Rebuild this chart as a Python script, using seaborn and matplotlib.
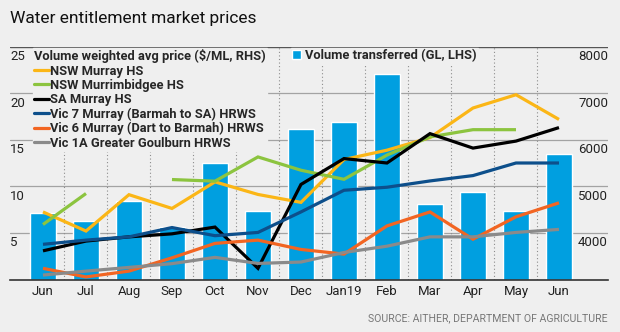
import numpy as np
import pandas as pd
import matplotlib
matplotlib.use("Agg")
import matplotlib.pyplot as plt
import seaborn as sns
from matplotlib import font_manager as fm
from matplotlib.lines import Line2D
from matplotlib.patches import Patch

# ---------------- data ----------------
months = ["Jun", "Jul", "Aug", "Sep", "Oct", "Nov", "Dec", "Jan19",
          "Feb", "Mar", "Apr", "May", "Jun"]
volume_gl = [7.1, 6.25, 8.4, 5.6, 12.55, 7.33, 16.2, 16.95, 22.07, 8.08, 9.44, 7.33, 13.5]

nsw_murray = [4450, 4040, 4820, 4525, 5095, 4825, 4655, 5575, 5775, 6045, 6680, 6965, 6435]
nsw_murrumbidgee = [4180, 4845, np.nan, 5145, 5110, 5630, 5345, 5150, 5670, 6060, 6215, 6215, np.nan]
sa_murray = [3615, 3825, 3915, 3980, 4125, 3240, 5040, 5595, 5500, 6130, 5820, 5970, 6260]
vic7 = [3755, 3845, 3915, 4115, 3940, 4010, 4450, 4915, 4980, 5115, 5230, 5500, 5500]
vic6 = [3240, 3055, 3180, 3465, 3775, 3845, 3645, 3545, 4150, 4450, 3865, 4345, 4645]
vic1a = [3095, 3180, 3260, 3340, 3475, 3345, 3375, 3580, 3715, 3915, 3915, 4010, 4075]

series_names = ["NSW Murray HS", "NSW Murrimbidgee HS", "SA Murray HS",
                "Vic 7 Murray (Barmah to SA) HRWS", "Vic 6 Murray (Dart to Barmah) HRWS",
                "Vic 1A Greater Goulburn HRWS"]
series_values = [nsw_murray, nsw_murrumbidgee, sa_murray, vic7, vic6, vic1a]
series_colors = ["#fbb616", "#8cc43f", "#000000", "#0d4f8b", "#f26522", "#8a8a8a"]

left_ticks = [5, 10, 15, 20, 25]
right_ticks = [4000, 5000, 6000, 7000, 8000]

# ---------------- fonts ----------------
names = {f.name for f in fm.fontManager.ttflist}
base_font = "Roboto" if "Roboto" in names else "DejaVu Sans"
if "Liberation Sans Narrow" in names:
    leg_font = dict(family="Liberation Sans Narrow", weight="bold", size=10.5)
else:
    leg_font = dict(family=base_font, weight="bold", size=9.3)

BG = "#efefef"
sns.set_theme(style="white")
plt.rcParams["font.family"] = [base_font, "DejaVu Sans"]

fig = plt.figure(figsize=(6.2, 3.32), dpi=100, facecolor=BG)
ax = fig.add_axes([10 / 620, 1 - 279.5 / 332, 598 / 620, 233 / 332])
ax.set_facecolor(BG)
ax2 = ax.twinx()
ax2.set_facecolor("none")

x = np.arange(len(months))
df_bar = pd.DataFrame({"idx": x, "vol": volume_gl})
sns.barplot(data=df_bar, x="idx", y="vol", native_scale=True, width=0.6,
            color="#009fe0", saturation=1, ax=ax, zorder=3)

ax.set_xlim(-0.767, 13.14)
ax.set_ylim(0, 25)
ax2.set_ylim(3000, 8000)

# grid lines
for v in [5, 10, 15, 20]:
    ax.axhline(v, color="#a3a3a3", lw=0.9, zorder=1)
ax.axhline(25, color="#555555", lw=1.0, zorder=1)
ax.vlines(x[:-1] + 0.5, 0, 25, colors="#8c8c8c", linestyles=(0, (1, 2.2)), lw=0.8, zorder=1)

for s in ["top", "left", "right"]:
    ax.spines[s].set_visible(False)
    ax2.spines[s].set_visible(False)
ax2.spines["bottom"].set_visible(False)
ax.spines["bottom"].set_color("#333333")
ax.spines["bottom"].set_linewidth(1.2)
ax.spines["bottom"].set_zorder(5)

# lines
for name, vals, col in zip(series_names, series_values, series_colors):
    d = pd.DataFrame({"idx": x, "price": vals})
    d["seg"] = d["price"].isna().cumsum()
    d = d.dropna()
    for _, g in d.groupby("seg"):
        sns.lineplot(data=g, x="idx", y="price", color=col, lw=2.3, ax=ax2,
                     solid_joinstyle="miter", solid_capstyle="butt", zorder=4)
ax2.set_xlim(-0.767, 13.14)

# ticks
ax.set_xticks(x)
ax.set_xticklabels(months, fontsize=9.5, color="#222222")
ax.tick_params(axis="x", length=0, pad=4)
ax.set_yticks([])
ax2.set_yticks([])
ax.set_xlabel("")
ax.set_ylabel("")
ax2.set_xlabel("")
ax2.set_ylabel("")

for v in left_ticks:
    ax.annotate(str(v), xy=(0, v), xycoords=("axes fraction", "data"),
                xytext=(0, -2.5), textcoords="offset points", ha="left", va="top",
                fontsize=9.5, color="#222222")
for v in right_ticks:
    ax2.annotate(str(v), xy=(1, v), xycoords=("axes fraction", "data"),
                 xytext=(0, -2.5), textcoords="offset points", ha="right", va="top",
                 fontsize=9.5, color="#222222")

# legends
handles = [Line2D([0], [0], color=c, lw=2.3) for c in series_colors]
leg1 = ax2.legend(handles, series_names, loc="upper left",
                  bbox_to_anchor=(33 / 620, 1 - 48 / 332), bbox_transform=fig.transFigure,
                  title="Volume weighted avg price ($/ML, RHS)", prop=leg_font,
                  title_fontproperties=leg_font, frameon=True, facecolor=BG,
                  edgecolor=BG, framealpha=1, borderpad=0.1, borderaxespad=0,
                  handlelength=1.1, handletextpad=0.1, labelspacing=0.1, fancybox=False)
leg1._legend_box.align = "left"
leg1.set_zorder(10)
ax2.add_artist(leg1)

leg2 = ax2.legend([Patch(facecolor="#009fe0")], ["Volume transferred (GL, LHS)"],
                  loc="upper left", bbox_to_anchor=(291 / 620, 1 - 48 / 332),
                  bbox_transform=fig.transFigure, prop=leg_font, frameon=True,
                  facecolor=BG, edgecolor=BG, framealpha=1, borderpad=0.1,
                  borderaxespad=0, handlelength=0.7, handleheight=0.7,
                  handletextpad=0.3, fancybox=False)
leg2.set_zorder(10)

# title and source
fig.text(10 / 620, 1 - 18 / 332, "Water entitlement market prices", fontsize=12.5,
         color="#111111", ha="left", va="center")
fig.text(608 / 620, 1 - 318 / 332, "SOURCE: AITHER, DEPARTMENT OF AGRICULTURE",
         fontsize=7.6, color="#777777", ha="right", va="center")

fig.savefig("out.png", dpi=100, facecolor=BG)
